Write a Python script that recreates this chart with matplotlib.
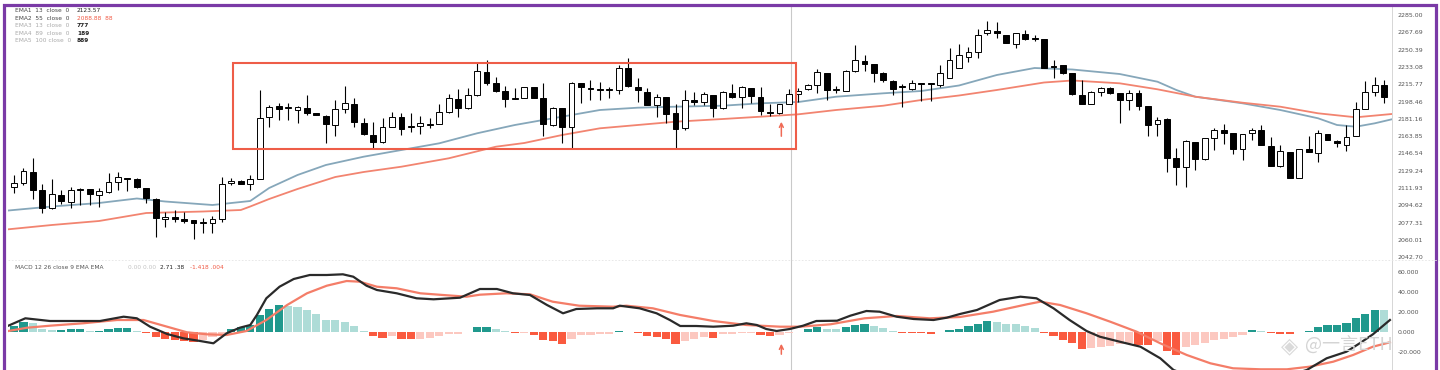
import numpy as np
import matplotlib
matplotlib.use("Agg")
import matplotlib.pyplot as plt
from matplotlib.patches import Rectangle

# ── Candles (left to right) ──────────────────────────────────────────────
opens = [
    2113, 2117, 2128, 2110, 2092, 2105, 2098, 2110, 2111, 2105,
    2108, 2118, 2122, 2121, 2112, 2101, 2081, 2083, 2081, 2080,
    2077, 2077, 2081, 2117, 2119, 2116, 2121, 2183, 2194, 2192,
    2190, 2192, 2187, 2184, 2175, 2191, 2196, 2177, 2165, 2158,
    2173, 2183, 2173, 2174, 2175.5, 2176, 2188, 2201, 2192, 2205,
    2228, 2217, 2209, 2201.5, 2202, 2213, 2202, 2175, 2192, 2173,
    2217, 2212, 2211, 2210, 2210, 2232, 2213, 2208, 2195, 2203,
    2187, 2172, 2200, 2198, 2205, 2192, 2207, 2203, 2212, 2203,
    2188, 2187, 2196, 2206, 2211, 2215, 2227, 2210, 2209, 2229,
    2239, 2236, 2227, 2219, 2214, 2211, 2217, 2217, 2215, 2222,
    2232, 2243, 2248, 2267, 2269, 2265, 2256, 2266, 2262, 2261,
    2234, 2235, 2227, 2205, 2196, 2208, 2212, 2207, 2200, 2207,
    2194, 2176, 2181, 2142, 2133, 2158, 2141, 2162, 2170, 2167,
    2151, 2167, 2170, 2154, 2134, 2148, 2122, 2151, 2147, 2166,
    2159, 2155, 2164, 2191, 2208, 2215,
]
highs = [
    2125, 2132, 2142, 2116, 2121, 2110, 2113, 2112, 2111, 2112,
    2127, 2128, 2122, 2122, 2112, 2102, 2088, 2090, 2088, 2080,
    2082, 2084, 2123, 2122, 2120, 2125, 2210, 2195, 2197, 2197,
    2194, 2205, 2187, 2185, 2200, 2214, 2202, 2182, 2178, 2182,
    2188, 2187, 2187, 2184, 2182, 2196, 2206, 2211, 2212, 2237,
    2240, 2223, 2214, 2212, 2213, 2213, 2217, 2193, 2192, 2218,
    2217, 2220, 2218, 2213, 2235, 2242, 2222, 2212, 2206, 2203,
    2196, 2210, 2208, 2208, 2205, 2209, 2216, 2214, 2212, 2213,
    2196, 2196, 2211, 2212, 2216, 2231, 2227, 2214, 2230, 2255,
    2245, 2236, 2228, 2220, 2216, 2220, 2217, 2217, 2235, 2252,
    2256, 2253, 2271, 2279, 2278, 2265, 2267, 2270, 2265, 2261,
    2240, 2235, 2227, 2220, 2209, 2213, 2213, 2207, 2210, 2210,
    2194, 2183, 2182, 2152, 2160, 2158, 2162, 2172, 2176, 2167,
    2166, 2172, 2175, 2163, 2155, 2148, 2151, 2164, 2170, 2166,
    2160, 2175, 2198, 2219, 2223, 2220,
]
lows = [
    2107, 2115, 2101, 2087, 2091, 2096, 2092, 2095, 2095, 2093,
    2107, 2110, 2109, 2112, 2097, 2063, 2073, 2078, 2077, 2061,
    2067, 2067, 2078, 2115, 2116, 2110, 2121, 2173, 2180, 2180,
    2177, 2185, 2185, 2157, 2164, 2187, 2173, 2165, 2152, 2157,
    2173, 2165, 2168, 2166, 2172, 2176, 2187, 2183, 2191, 2204,
    2215, 2208, 2193, 2201.5, 2202, 2202, 2164, 2174, 2157, 2152,
    2197, 2200, 2200, 2202, 2206, 2213, 2198, 2195, 2183, 2177,
    2152, 2170, 2195, 2195, 2183, 2191, 2202, 2192, 2197, 2185,
    2184, 2186, 2196, 2198, 2210, 2207, 2200, 2207, 2209, 2228,
    2229, 2218, 2218, 2205, 2193, 2210, 2199, 2199, 2213, 2222,
    2232, 2238, 2242, 2265, 2262, 2257, 2252, 2260, 2259, 2232,
    2222, 2226, 2205, 2196, 2196, 2204, 2206, 2177, 2190, 2190,
    2164, 2164, 2128, 2115, 2113, 2130, 2140, 2150, 2156, 2146,
    2140, 2160, 2155, 2134, 2133, 2122, 2122, 2148, 2138, 2160,
    2153, 2149, 2164, 2191, 2204, 2197,
]
closes = [
    2117, 2129, 2110, 2092, 2106, 2099, 2110, 2111, 2106, 2109,
    2118, 2123, 2121, 2113, 2102, 2082, 2083, 2081, 2079, 2077,
    2077.5, 2081, 2116, 2119, 2116.5, 2121, 2182, 2193, 2191, 2192.5,
    2193, 2187, 2185, 2176, 2191, 2197, 2178, 2166, 2158, 2173,
    2183, 2171, 2173.5, 2177, 2176, 2188, 2202, 2192, 2205, 2229,
    2217, 2209, 2201, 2202, 2213, 2202, 2176, 2192, 2173, 2217,
    2213, 2211.5, 2210.5, 2210.5, 2232, 2214, 2210, 2195, 2203, 2186,
    2171, 2200, 2198, 2206, 2192, 2208, 2203, 2213, 2204, 2189,
    2187, 2196, 2206, 2209, 2215, 2228, 2210, 2210.5, 2229, 2240,
    2236, 2227, 2220, 2211, 2213.5, 2217, 2216.5, 2216.5, 2227, 2240,
    2245, 2248, 2265, 2270, 2267, 2257, 2267, 2261, 2261.5, 2232,
    2233.5, 2227, 2206, 2196, 2208, 2212, 2207, 2200, 2207, 2194,
    2175, 2180, 2142, 2133, 2159, 2141, 2162, 2170, 2167, 2151,
    2166, 2170, 2155, 2134, 2149, 2122, 2151, 2148, 2167, 2160,
    2157, 2163, 2191, 2208, 2215, 2203,
]

# ── Moving averages, read at a handful of candle positions ───────────────
ema_fast_idx = [-0.6, 4, 9, 13, 16, 21, 25, 27, 30, 33, 37, 41, 45, 49, 53, 56,
                59, 62, 66, 70, 75, 79, 83, 87, 92, 96, 100, 104, 108, 112, 117,
                121, 123, 125, 130, 134, 138, 140, 142, 144, 145.8]
ema_fast = [2089.5, 2093.5, 2097, 2101.5, 2098.5, 2095, 2099, 2112, 2125, 2135,
            2143.3, 2150, 2156.7, 2166.7, 2175, 2180, 2185, 2190, 2192.3, 2193.3,
            2194.3, 2196.7, 2198, 2203.3, 2206.7, 2209, 2214.5, 2225, 2232, 2230.5,
            2226, 2218.3, 2210, 2203.3, 2196.7, 2190, 2181.7, 2175, 2173.3, 2176.7,
            2180.7]
ema_slow_idx = [-0.6, 4, 9, 14, 20, 24, 25, 27, 30, 34, 37, 41, 46, 51, 54, 58,
                62, 66, 70, 75, 79, 83, 87, 92, 96, 100, 104, 109, 112, 117, 121,
                125, 130, 134, 138, 142, 145.8]
ema_slow = [2070.7, 2075, 2079, 2087, 2088.5, 2090, 2093.5, 2101, 2111, 2123,
            2128, 2133.3, 2141.7, 2153.3, 2157, 2165, 2171.7, 2175, 2178.3, 2181,
            2183.3, 2185.7, 2190, 2194.3, 2200, 2204.5, 2210, 2217.5, 2219.5,
            2216.7, 2210.7, 2203.3, 2197.3, 2193.3, 2186.7, 2182.7, 2186]

# ── MACD pane ────────────────────────────────────────────────────────────
macd_idx = [-0.6, 1.2, 3.8, 7, 9.1, 11.6, 13, 14.4, 16.2, 17.9, 19.7, 21.1, 22.5,
            23.9, 25, 25.7, 26.7, 28.1, 29.6, 31.3, 33.1, 34.8, 35.9, 37.3, 38.4,
            40.5, 42.6, 44.4, 47.2, 49.3, 51.1, 52.8, 54.6, 56.4, 58.1, 59.5,
            61.7, 63.4, 64.1, 66.2, 68, 69.4, 70.5, 72.2, 74, 76.1, 77.5, 78.6,
            79.6, 80.7, 82.1, 83.5, 84.9, 87.1, 88.5, 90.2, 91.6, 93.4, 95.2,
            97.3, 98.7, 100.1, 101.9, 104.3, 106.5, 108.2, 110, 111.7, 113.5,
            114.9, 117, 119.2, 121.3, 122.7, 125, 128, 131, 134, 136.8, 138.9,
            141, 142.4, 143.8, 145.6]
macd_line = [6.3, 13.7, 11, 11, 11, 15.3, 13.7, 5.3, -2, -6.3, -9, -11.3, -1.3,
             4.3, 7, 17, 33.7, 45.3, 53, 57, 57, 57.7, 55.3, 46.3, 42,
             38.7, 33.7, 32.7, 34.3, 43, 43, 38.7, 37, 27, 18.7, 23,
             23.7, 23.7, 26.3, 23.7, 18.7, 12, 6, 6, 5.3, 6.3, 8.7, 7,
             3, 1, 3, 6.3, 11, 11.3, 16.3, 21, 20.3, 15.3, 13,
             12, 14.3, 18, 22, 32, 35.3, 33.7, 23.7, 12, 1,
             -4.7, -9.7, -14.7, -26.3, -38, -46, -52, -53, -46, -38, -26.3,
             -19.7, -11.3, -2.3, 12]
signal_idx = [-0.6, 1.4, 3.8, 7.3, 10.9, 13.7, 16.2, 18.3, 20.4, 22.5, 24.6, 26.7,
              28.9, 31, 33.1, 35.2, 36.6, 38.4, 40.5, 43, 45.4, 47.9, 49.3, 52.1,
              54.6, 57, 59.8, 63.4, 64.8, 67.6, 70.5, 74, 77.5, 81.1, 83.2, 86.4,
              90, 93.4, 96.9, 100.1, 103.6, 107.2, 108.6, 110.7, 113.5, 116, 118.8,
              121.3, 124.1, 126.6, 129, 131.9, 134.7, 137.1, 139.6, 141.7, 143.8,
              145.6]
signal_line = [1, 4.3, 6.3, 8.7, 12, 12, 5.3, -0.3, -2.3, -3, 1, 12,
               27, 38.7, 46.3, 51, 50.3, 45.3, 43.7, 38.7, 37, 35.3, 37.3, 38.7,
               37.7, 30.3, 26.3, 25.3, 26.3, 23.7, 17, 11, 7, 5.3, 5.3, 7.7,
               13.7, 16, 13.7, 15, 20.3, 27.7, 30.3, 27, 18.7, 10.3, 0.3,
               -11.3, -23, -31.3, -36.3, -37.3, -37.3, -34.7, -29.7, -23, -14.7,
               -10.3]
histogram = [
    6, 10, 9.3, 2.7, 1.7, 1.7, 2.7, 2.8, 1.3, 1.3,
    2.7, 4, 4.2, 1.3, -0.5, -5, -6.7, -8.3, -9.3, -9.5,
    -8.3, -5, -1.7, 2.7, 5, 6.7, 16.7, 23.3, 26.7, 26,
    25, 21.7, 18.3, 12, 11.7, 10, 5.7, 0.7, -4.3, -6,
    -4.3, -6.5, -7, -6.7, -6, -4, -1.7, -1.6, 0.2, 5,
    5.2, 3.3, 0.7, -1, -0.5, -2.7, -8, -8.5, -11.7, -6.7,
    -3.3, -2.7, -2, -1.7, 1.3, 0.3, -1, -4.3, -4.5, -6.7,
    -11.7, -9.3, -6.7, -5, -6, -2.3, -1.7, -1, -0.5, -2.7,
    -4.3, -3.3, -1, -0.3, 2.7, 5, 3.3, 2.7, 5, 7.3,
    7.7, 6, 4, 0.7, -1.2, -1.3, -1.4, -1.5, 0.3, 1.7,
    3.5, 6, 8.3, 11, 10, 8.3, 7.7, 5.7, 4, -1,
    -4.3, -8.3, -10.7, -16.7, -16.3, -15.3, -14, -12.3, -10.7, -12.7,
    -13.3, -9.3, -19.3, -22.7, -15, -12.7, -10.7, -8.3, -6.7, -5,
    -3.3, 2.3, 0.7, -1.3, -1.5, -1.7, 0.3, 1, 5, 7.3,
    7.4, 9, 14, 18.3, 22.3, 21.7,
]

# annotations: highlighted range box, the marked candle, the cursor line
box_left, box_right, box_low, box_high = 23.17, 82.75, 2151, 2237
marked_candle = 81.2
cursor_candle = 82.2

# ── Layout (figure is 1440 x 370 px) ──────────────────────────────────────
W, H = 1440, 370
fig = plt.figure(figsize=(W / 100, H / 100), dpi=100)
fig.patch.set_facecolor("white")

x_left, x_right = 8, 1392
split_y, top_y = 260, 6
ax = fig.add_axes([x_left / W, (H - split_y) / H, (x_right - x_left) / W, (split_y - top_y) / H])
axm = fig.add_axes([x_left / W, 0, (x_right - x_left) / W, (H - split_y) / H])

n = len(opens)
xs = np.arange(n)
o, h, l, c = (np.array(a, float) for a in (opens, highs, lows, closes))
up = c >= o

# wicks + bodies
ax.vlines(xs, l, h, color="black", lw=0.8, zorder=3)
body_bottom = np.minimum(o, c)
body_height = np.maximum(np.abs(c - o), 0.7)
ax.bar(xs, body_height, bottom=body_bottom, width=0.62,
       color=np.where(up, "white", "black"), edgecolor="black", linewidth=0.7, zorder=4)

ax.plot(ema_fast_idx, ema_fast, color="#86a7ba", lw=1.3, zorder=2)
ax.plot(ema_slow_idx, ema_slow, color="#f28470", lw=1.3, zorder=2)

ax.add_patch(Rectangle((box_left, box_low), box_right - box_left, box_high - box_low,
                       fill=False, edgecolor="#ee5d48", lw=1.5, zorder=5))
ax.annotate("", xy=(marked_candle, 2181), xytext=(marked_candle, 2161),
            arrowprops=dict(arrowstyle="->", color="#f06a55", lw=1.1, mutation_scale=7))

ax.set_xlim(-0.635, 145.82)
ax.set_ylim(2040, 2294)
price_ticks = np.linspace(2285, 2042.7, 15)
ax.set_yticks(price_ticks)
ax.set_yticklabels([f"{v:.2f}" for v in price_ticks])

# MACD histogram coloured by direction
hist = np.array(histogram, float)
prev = np.r_[0.0, hist[:-1]]
bar_colors = np.where(hist >= 0,
                      np.where(hist >= prev, "#20998d", "#aedcd7"),
                      np.where(hist < prev, "#fa5a3f", "#fcc8c0"))
axm.bar(xs, hist, width=0.86, color=bar_colors, zorder=2)
axm.plot(signal_idx, signal_line, color="#f47d68", lw=1.6, zorder=3)
axm.plot(macd_idx, macd_line, color="#2a2a2a", lw=1.6, zorder=4)
axm.annotate("", xy=(marked_candle, -9), xytext=(marked_candle, -25),
             arrowprops=dict(arrowstyle="->", color="#f06a55", lw=1.1, mutation_scale=7))
axm.set_xlim(-0.635, 145.82)
axm.set_ylim(-38, 72)
macd_ticks = [60, 40, 20, 0, -20]
axm.set_yticks(macd_ticks)
axm.set_yticklabels([f"{v:.3f}" for v in macd_ticks])

for a in (ax, axm):
    a.set_facecolor("none")
    a.set_xticks([])
    a.yaxis.tick_right()
    a.tick_params(axis="y", length=0, pad=4, labelsize=4.5, labelcolor="#555555")
    for side in ("left", "top", "bottom"):
        a.spines[side].set_visible(False)
    a.spines["right"].set_color("#d6d6d6")
    a.spines["right"].set_linewidth(0.7)
    a.axvline(cursor_candle, color="#c9c9c9", lw=0.8, zorder=1)

# pane separator
fig.add_artist(plt.Line2D([x_left / W, 1], [(H - split_y) / H] * 2, color="#e4e4e4",
                          lw=0.6, ls=(0, (2, 2)), transform=fig.transFigure))

# ── Legend texts (top-left) ──────────────────────────────────────────────
def ftext(x, y, s, **kw):
    fig.text(x / W, 1 - y / H, s, va="center", ha="left", fontsize=4.2, **kw)

legend_rows = [
    ("EMA1  13  close  0", "2123.57", "#222222"),
    ("EMA2  55  close  0", "2088.88  88", "#f05a45"),
    ("EMA3  13  close  0", "777", "#222222"),
    ("EMA4  89  close  0", "189", "#222222"),
    ("EMA5  100 close  0", "889", "#222222"),
]
for k, (label, val, col) in enumerate(legend_rows):
    y = 10.5 + 7.6 * k
    ftext(15, y, label, color="#444444" if k < 2 else "#aaaaaa")
    ftext(77, y, val, color=col, fontweight="bold" if k >= 2 else "normal")

ftext(15, 267.5, "MACD 12 26 close 9 EMA EMA", color="#555555")
ftext(128, 267.5, "0.00 0.00", color="#c4c4c4")
ftext(160, 267.5, "2.71 .38", color="#222222")
ftext(190, 267.5, "-1.418 .004", color="#f05a45")

# watermark
fig.text(1281 / W, 1 - 346 / H, "◈", fontsize=16, color="#dadada", va="center",
         ha="left", family=["DejaVu Sans"])
fig.text(1305 / W, 1 - 346 / H, "@一言ETH", fontsize=13, color="#d4d4d4", va="center",
         ha="left", family=["Noto Sans CJK SC", "DejaVu Sans"])

# purple frame (bottom edge is cropped off in the reference)
fig.add_artist(Rectangle((4 / W, -0.05), (1435.5 - 4) / W, 1.05 - 4.5 / H, fill=False,
                         edgecolor="#7a3aa6", lw=2.3, transform=fig.transFigure))

fig.savefig("out.png", dpi=100)
plt.close(fig)
